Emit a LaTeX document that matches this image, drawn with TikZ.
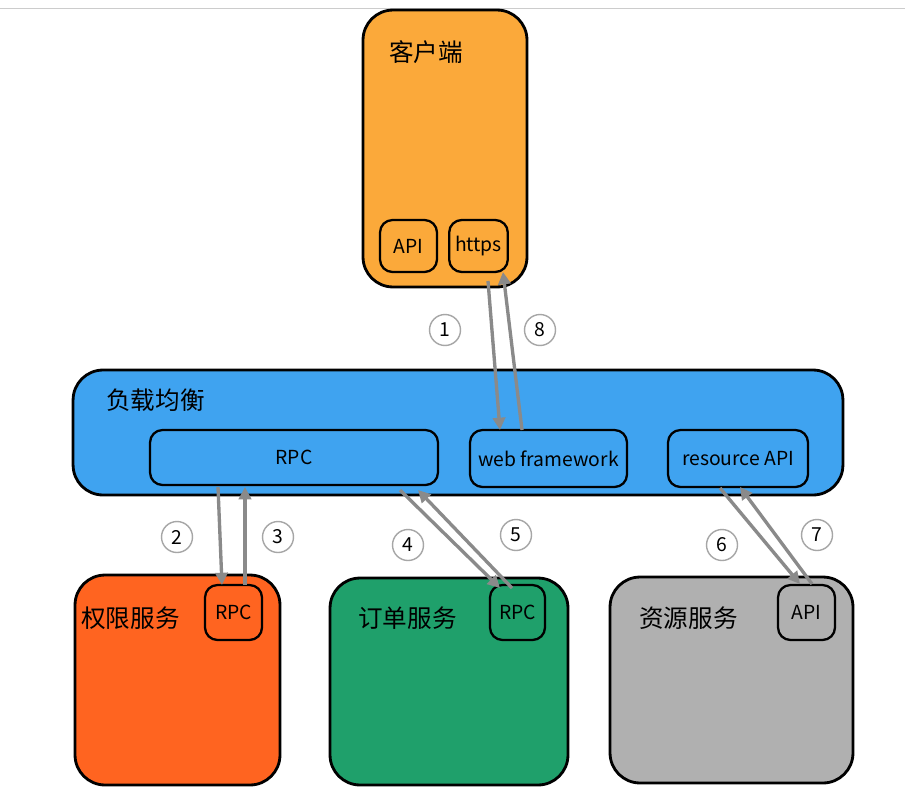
\documentclass[tikz,border=0pt]{standalone}
\usepackage{fontspec}
\setmainfont{Noto Sans CJK SC}
\usetikzlibrary{arrows.meta}
\definecolor{corange}{HTML}{FBA93A}
\definecolor{cblue}{HTML}{3FA3F0}
\definecolor{cred}{HTML}{FF6420}
\definecolor{cgreen}{HTML}{1FA06B}
\definecolor{cgray}{HTML}{B0B0B0}
\definecolor{carrow}{HTML}{8A8A8A}
\begin{document}
\begin{tikzpicture}[x=0.02cm,y=-0.02cm,
  big/.style={draw=black,line width=1.6pt,rounded corners=0.6cm},
  small/.style={draw=black,line width=1.3pt,rounded corners=0.25cm},
  lbl/.style={font=\fontsize{14}{17}\selectfont,anchor=west},
  sl/.style={font=\fontsize{11}{13}\selectfont},
  num/.style={circle,draw=gray!70,line width=0.8pt,minimum size=0.62cm,inner sep=0pt,font=\fontsize{11}{13}\selectfont},
  arr/.style={draw=carrow,line width=1.9pt,-{Triangle[length=7pt,width=7pt]}}]
\useasboundingbox (0,0) rectangle (905,805);
\fill[white] (0,0) rectangle (905,805);
\draw[gray!40] (0,8) -- (905,8);
% client
\node[big,fill=corange,minimum width=3.28cm,minimum height=5.54cm,inner sep=0pt] (client) at (445,148.5) {};
\node[lbl] (clientl) at (383,52) {客户端};
\node[small,fill=corange,minimum width=1.14cm,minimum height=1.04cm,sl] (api) at (408.5,246) {API};
\node[small,fill=corange,minimum width=1.06cm,minimum height=1.04cm,sl] (https) at (478.5,246) {https};
% lb
\node[big,fill=cblue,minimum width=15.4cm,minimum height=2.5cm,inner sep=0pt] (lb) at (458,432.5) {};
\node[lbl] (lbl1) at (100,400) {负载均衡};
\node[small,fill=cblue,minimum width=5.76cm,minimum height=1.1cm,sl] (rpc) at (294,457.5) {RPC};
\node[small,fill=cblue,minimum width=3.14cm,minimum height=1.14cm,sl] (web) at (548.5,458.5) {web framework};
\node[small,fill=cblue,minimum width=2.8cm,minimum height=1.14cm,sl] (res) at (738,458.5) {resource API};
% bottom
\node[big,fill=cred,minimum width=4.1cm,minimum height=4.2cm,inner sep=0pt] (auth) at (177.5,680) {};
\node[lbl] (authl) at (75,618) {权限服务};
\node[small,fill=cred,minimum width=1.14cm,minimum height=1.1cm,sl] (rpc1) at (233.5,612.5) {RPC};
\node[big,fill=cgreen,minimum width=4.76cm,minimum height=4.14cm,inner sep=0pt] (order) at (449,681.5) {};
\node[lbl] (orderl) at (352,618) {订单服务};
\node[small,fill=cgreen,minimum width=1.1cm,minimum height=1.1cm,sl] (rpc2) at (517.5,612.5) {RPC};
\node[big,fill=cgray,minimum width=4.86cm,minimum height=4.12cm,inner sep=0pt] (resrc) at (731.5,680) {};
\node[lbl] (resrcl) at (633,618) {资源服务};
\node[small,fill=cgray,minimum width=1.14cm,minimum height=1.1cm,sl] (api2) at (806.5,612.5) {API};
% numbers
\node[num] (n1) at (445,330) {1};
\node[num] (n8) at (540,330) {8};
\node[num] (n2) at (177,537) {2};
\node[num] (n3) at (278,537) {3};
\node[num] (n4) at (408,545) {4};
\node[num] (n5) at (516,535) {5};
\node[num] (n6) at (722,545) {6};
\node[num] (n7) at (817,535) {7};
% arrows
\coordinate (a1s) at (488,281); \coordinate (a1e) at (500,430);
\coordinate (a8s) at (522,430); \coordinate (a8e) at (503,272);
\coordinate (a2s) at (218,487); \coordinate (a2e) at (222,585);
\coordinate (a3s) at (245,585); \coordinate (a3e) at (245,487);
\coordinate (a4s) at (400,490); \coordinate (a4e) at (500,588);
\coordinate (a5s) at (512,588); \coordinate (a5e) at (418,490);
\coordinate (a6s) at (720,488); \coordinate (a6e) at (800,584);
\coordinate (a7s) at (812,584); \coordinate (a7e) at (740,487);
\foreach \i in {1,8,2,3,4,5,6,7} \draw[arr] (a\i s) -- (a\i e);
\end{tikzpicture}
\end{document}
